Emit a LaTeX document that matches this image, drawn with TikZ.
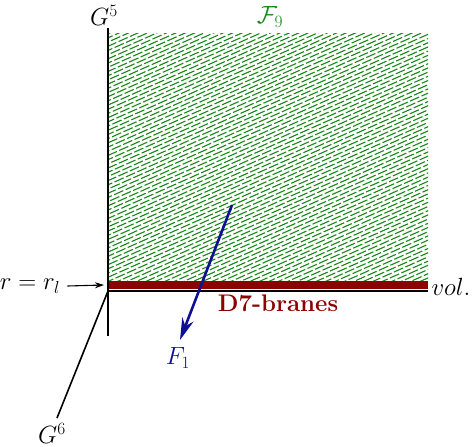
\documentclass[tikz,border=0pt]{standalone}
\usetikzlibrary{arrows.meta}
\definecolor{hatchgreen}{RGB}{25,135,25}
\definecolor{branered}{RGB}{140,0,0}
\definecolor{fblue}{RGB}{15,15,150}
\begin{document}
\begin{tikzpicture}[x=1pt,y=-1pt,
  lbl/.style={inner sep=0pt,font=\fontsize{24}{28}\selectfont},
  axisline/.style={line width=1.6pt,black},
  hatchline/.style={hatchgreen,line width=1.1pt,dash pattern=on 10pt off 2.5pt}]
\useasboundingbox (0,0) rectangle (474,447);
% hatched region
\begin{scope}
\clip (109,33) rectangle (428,280);
\foreach \i in {0,...,120} {
  \pgfmathsetmacro{\ph}{mod(\i*4.3,12.5)}
  \draw[hatchline,dash phase=\ph pt] (100,{33+4.2*\i}) -- ++(340,-151);
}
\end{scope}
% coordinates
\coordinate (O) at (108,291);
\coordinate (Vtop) at (108,28);
\coordinate (Vbot) at (108,336);
\coordinate (Hend) at (428,291);
\coordinate (G6end) at (57,418);
% axes
\draw[axisline] (Vtop) -- (Vbot);
\draw[axisline] (O) -- (Hend);
\draw[axisline] (O) -- (G6end);
% D7 bar
\fill[branered] (109,281) rectangle (428,288.5);
% labels
\node[lbl] (g5) at (104,15) {$G^5$};
\node[lbl,text=hatchgreen] (f9) at (270,17) {$\mathcal{F}_9$};
\node[lbl] (vol) at (451,287) {$vol.$};
\node[lbl,font=\fontsize{24}{28}\selectfont\bfseries,text=branered] (d7) at (278,303) {D7-branes};
\node[lbl] (rl) at (30,286) {$r=r_l$};
\node[lbl] (g6) at (52,433) {$G^6$};
\node[lbl,text=fblue] (f1) at (178,358) {$F_1$};
\coordinate (rlarrow) at (104,285);
\draw[-{Stealth[length=9pt,width=6pt]},line width=1.1pt] (rl.east) ++(7,0) -- (rlarrow);
% blue arrow
\coordinate (fstart) at (232,205);
\coordinate (fend) at (180,340);
\draw[fblue,line width=2.6pt,-{Stealth[length=22pt,width=12pt]}] (fstart) -- (fend);
\end{tikzpicture}
\end{document}
